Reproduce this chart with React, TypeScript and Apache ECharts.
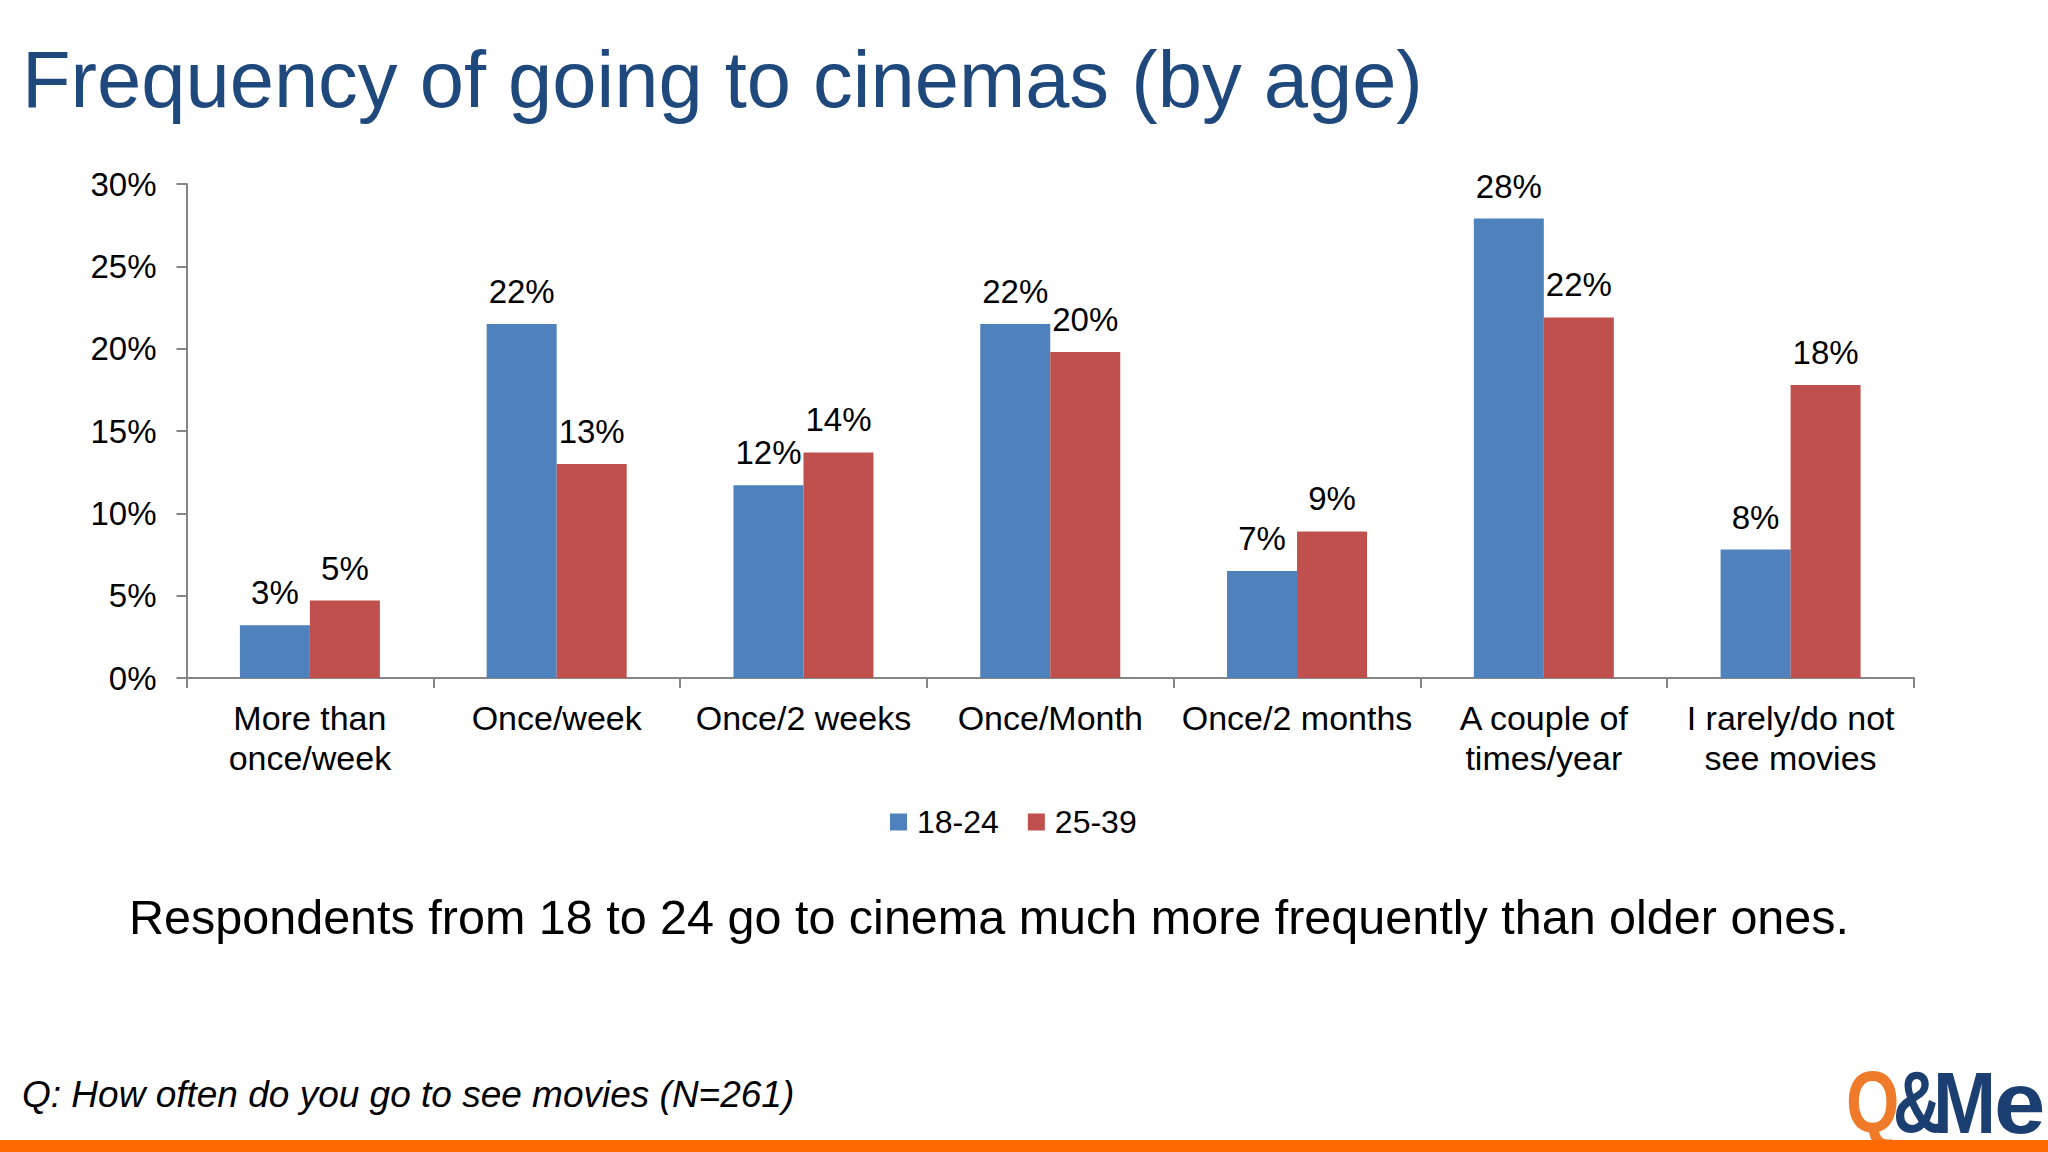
import React, { useEffect, useRef } from "react";
import * as echarts from "echarts";

const categories = [
  "More than\nonce/week",
  "Once/week",
  "Once/2 weeks",
  "Once/Month",
  "Once/2 months",
  "A couple of\ntimes/year",
  "I rarely/do not\nsee movies",
];
const seriesNames = ["18-24", "25-39"];
const values1824 = [3.2, 21.5, 11.7, 21.5, 6.5, 27.9, 7.8];
const values2539 = [4.7, 13.0, 13.7, 19.8, 8.9, 21.9, 17.8];
const yTicks = { min: 0, max: 30, interval: 5 };

const titleText = "Frequency of going to cinemas (by age)";
const subtitleText = "Respondents from 18 to 24 go to cinema much more frequently than older ones.";
const footnoteText = "Q: How often do you go to see movies (N=261)";

const FONT = "'Liberation Sans', Arial, Helvetica, sans-serif";

export default function App() {
  const ref = useRef<HTMLDivElement>(null);
  useEffect(() => {
    document.body.style.margin = "0";
    const chart = echarts.init(ref.current!, null, { renderer: "svg" });
    const labelFmt = (p: any) => Math.round(p.value) + "%";
    chart.setOption({
      animation: false,
      backgroundColor: "#ffffff",
      textStyle: { fontFamily: FONT },
      grid: {
        left: 186.5,
        right: 134,
        top: 184,
        bottom: 474,
        containLabel: false,
        outerBoundsMode: "none",
      },
      legend: {
        data: seriesNames,
        left: 885,
        top: 801,
        icon: "rect",
        itemWidth: 17,
        itemHeight: 17,
        itemGap: 29,
        textStyle: { fontSize: 32, color: "#000", fontFamily: FONT, padding: [0, 0, 0, 5] },
      },
      xAxis: {
        type: "category",
        data: categories,
        axisLine: { lineStyle: { color: "#868686", width: 2 } },
        axisTick: { show: true, length: 10, lineStyle: { color: "#868686", width: 2 } },
        axisLabel: {
          interval: 0,
          fontSize: 34,
          lineHeight: 40,
          margin: 20,
          color: "#000",
          fontFamily: FONT,
        },
      },
      yAxis: {
        type: "value",
        min: yTicks.min,
        max: yTicks.max,
        interval: yTicks.interval,
        axisLine: { show: true, lineStyle: { color: "#868686", width: 2 } },
        axisTick: { show: true, length: 10, lineStyle: { color: "#868686", width: 2 } },
        splitLine: { show: false },
        axisLabel: {
          formatter: "{value}%",
          fontSize: 33,
          margin: 30,
          color: "#000",
          fontFamily: FONT,
        },
      },
      series: [
        {
          name: seriesNames[0],
          type: "bar",
          data: values1824,
          barWidth: 70,
          barGap: "0%",
          itemStyle: { color: "#4F81BD" },
          label: {
            show: true,
            position: "top",
            distance: 16,
            formatter: labelFmt,
            fontSize: 33,
            color: "#000",
            fontFamily: FONT,
          },
        },
        {
          name: seriesNames[1],
          type: "bar",
          data: values2539,
          barWidth: 70,
          barGap: "0%",
          itemStyle: { color: "#C0504D" },
          label: {
            show: true,
            position: "top",
            distance: 16,
            formatter: labelFmt,
            fontSize: 33,
            color: "#000",
            fontFamily: FONT,
          },
        },
      ],
      graphic: [
        {
          type: "text",
          x: 22,
          y: 79,
          style: {
            text: titleText,
            font: `79.5px ${FONT}`,
            fill: "#1F497D",
            verticalAlign: "middle",
          },
        },
        {
          type: "text",
          x: 129,
          y: 917,
          style: {
            text: subtitleText,
            font: `48.5px ${FONT}`,
            fill: "#000",
            verticalAlign: "middle",
          },
        },
        {
          type: "text",
          x: 22,
          y: 1094,
          style: {
            text: footnoteText,
            font: `italic 37px ${FONT}`,
            fill: "#000",
            verticalAlign: "middle",
          },
        },
        {
          type: "text",
          x: 1846,
          y: 1102,
          scaleX: 0.78,
          style: { text: "Q", font: `bold 88px ${FONT}`, fill: "#EE7A2A", verticalAlign: "middle" },
        },
        {
          type: "text",
          x: 1893,
          y: 1102,
          scaleX: 0.76,
          style: { text: "&", font: `bold 88px ${FONT}`, fill: "#1C3F72", verticalAlign: "middle" },
        },
        {
          type: "text",
          x: 1933,
          y: 1102,
          scaleX: 0.86,
          style: { text: "M", font: `bold 88px ${FONT}`, fill: "#1C3F72", verticalAlign: "middle" },
        },
        {
          type: "text",
          x: 1994,
          y: 1102,
          scaleX: 1.05,
          style: { text: "e", font: `bold 88px ${FONT}`, fill: "#1C3F72", verticalAlign: "middle" },
        },
        {
          type: "rect",
          shape: { x: 0, y: 1140, width: 2048, height: 12 },
          style: { fill: "#FF6A00" },
        },
      ],
    });
    return () => chart.dispose();
  }, []);
  return (
    <div
      ref={ref}
      style={{ position: "absolute", left: 0, top: 0, width: 2048, height: 1152 }}
    />
  );
}
